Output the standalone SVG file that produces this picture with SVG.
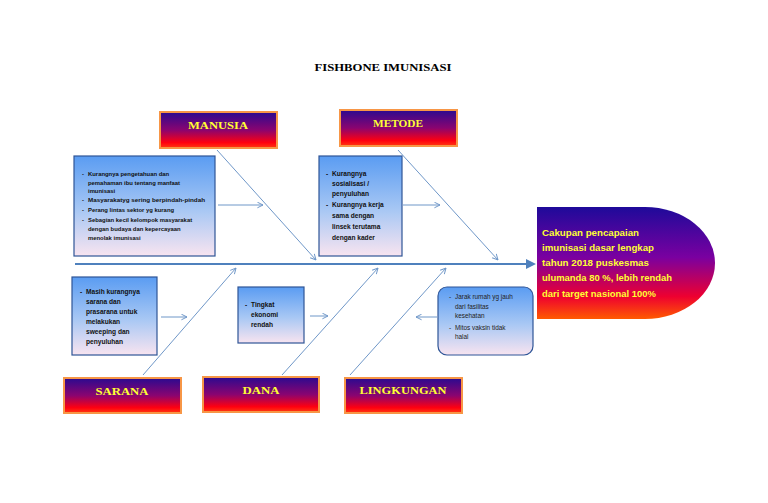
<svg xmlns="http://www.w3.org/2000/svg" width="768" height="503" viewBox="0 0 768 503">
<defs>
<linearGradient id="gLab" x1="0" y1="0" x2="0" y2="1">
<stop offset="0" stop-color="#2a0a90"/>
<stop offset="0.5" stop-color="#8a0470"/>
<stop offset="0.85" stop-color="#ff0010"/>
<stop offset="1" stop-color="#ff3a10"/>
</linearGradient>
<linearGradient id="gEff" x1="0" y1="0" x2="0" y2="1">
<stop offset="0" stop-color="#1e0a9a"/>
<stop offset="0.45" stop-color="#7a00a0"/>
<stop offset="0.8" stop-color="#ee0030"/>
<stop offset="1" stop-color="#ff5a00"/>
</linearGradient>
<linearGradient id="gBox" x1="0" y1="0" x2="0" y2="1">
<stop offset="0" stop-color="#5a9cf2"/>
<stop offset="0.55" stop-color="#a9c8f4"/>
<stop offset="1" stop-color="#f8e4f0"/>
</linearGradient>
<marker id="ah" viewBox="0 0 10 10" refX="9" refY="5" markerWidth="7" markerHeight="7" orient="auto" markerUnits="userSpaceOnUse">
<path d="M1,1 L9,5 L1,9" fill="none" stroke="#6f97c8" stroke-width="1.4"/>
</marker>
<marker id="ahS" viewBox="0 0 10 10" refX="8" refY="5" markerWidth="10" markerHeight="10" orient="auto" markerUnits="userSpaceOnUse">
<path d="M0,0 L10,5 L0,10 Z" fill="#4f81bd"/>
</marker>
</defs>
<style>
.lab{fill:url(#gLab);stroke:#f79646;stroke-width:2}
.labt{font-family:"Liberation Serif",serif;font-weight:bold;font-size:10.5px;fill:#ffff33;text-anchor:middle}
.tb{fill:url(#gBox);stroke:#2f5597;stroke-width:1.2}
.t1{font-family:"Liberation Sans",Arial,sans-serif;font-weight:bold;font-size:5.9px;fill:#111}
.t2{font-family:"Liberation Sans",Arial,sans-serif;font-weight:bold;font-size:6.6px;fill:#111}
.t3{font-family:"Liberation Sans",Arial,sans-serif;font-size:6.4px;fill:#222}
.eff{font-family:"Liberation Sans",Arial,sans-serif;font-weight:bold;font-size:9.6px;fill:#ffff33}
.bone{stroke:#6f97c8;stroke-width:1;fill:none}
</style>
<rect width="768" height="503" fill="#ffffff"/>
<text x="383" y="71" font-family="'Liberation Serif',serif" font-weight="bold" font-size="10" text-anchor="middle" textLength="137" lengthAdjust="spacingAndGlyphs" fill="#000">FISHBONE IMUNISASI</text>

<g id="connectors">
<line x1="75" y1="264" x2="534" y2="264" stroke="#4f81bd" stroke-width="2" marker-end="url(#ahS)"/>
<line class="bone" x1="217" y1="150" x2="316" y2="260" marker-end="url(#ah)"/>
<line class="bone" x1="398" y1="150" x2="498" y2="260" marker-end="url(#ah)"/>
<line class="bone" x1="143" y1="375" x2="236" y2="268" marker-end="url(#ah)"/>
<line class="bone" x1="282" y1="375" x2="378" y2="268" marker-end="url(#ah)"/>
<line class="bone" x1="350" y1="375" x2="446" y2="268" marker-end="url(#ah)"/>
<line class="bone" x1="218" y1="205" x2="263" y2="205" marker-end="url(#ah)"/>
<line class="bone" x1="403" y1="205" x2="440" y2="205" marker-end="url(#ah)"/>
<line class="bone" x1="161" y1="317" x2="187" y2="317" marker-end="url(#ah)"/>
<line class="bone" x1="310" y1="316" x2="328" y2="316" marker-end="url(#ah)"/>
<line class="bone" x1="437" y1="317" x2="416" y2="317" marker-end="url(#ah)"/>
</g>

<g id="manusia">
<rect class="lab" x="160" y="112" width="117" height="36"/>
<text class="labt" x="218" y="129" textLength="60" lengthAdjust="spacingAndGlyphs">MANUSIA</text>
</g>
<g id="metode">
<rect class="lab" x="340" y="110" width="117" height="36"/>
<text class="labt" x="398" y="127" textLength="50" lengthAdjust="spacingAndGlyphs">METODE</text>
</g>
<g id="sarana">
<rect class="lab" x="64" y="378" width="117" height="35"/>
<text class="labt" x="122" y="395" textLength="53" lengthAdjust="spacingAndGlyphs">SARANA</text>
</g>
<g id="dana">
<rect class="lab" x="203" y="377" width="116" height="35"/>
<text class="labt" x="261" y="394" textLength="37" lengthAdjust="spacingAndGlyphs">DANA</text>
</g>
<g id="lingkungan">
<rect class="lab" x="345" y="378" width="117" height="35"/>
<text class="labt" x="403" y="394" textLength="87" lengthAdjust="spacingAndGlyphs">LINGKUNGAN</text>
</g>

<g id="manusia-causes">
<rect class="tb" x="74" y="156" width="141" height="100"/>
<text class="t1" x="82" y="176">-</text><text class="t1" x="88" y="176">Kurangnya pengetahuan dan</text>
<text class="t1" x="88" y="185">pemahaman ibu tentang manfaat</text>
<text class="t1" x="88" y="193">imunisasi</text>
<text class="t1" x="82" y="202">-</text><text class="t1" x="88" y="202" textLength="117" lengthAdjust="spacingAndGlyphs">Masyarakatyg sering berpindah-pindah</text>
<text class="t1" x="82" y="212">-</text><text class="t1" x="88" y="212">Perang lintas sektor yg kurang</text>
<text class="t1" x="82" y="222">-</text><text class="t1" x="88" y="222">Sebagian kecil kelompok masyarakat</text>
<text class="t1" x="88" y="231">dengan budaya dan kepercayaan</text>
<text class="t1" x="88" y="240">menolak imunisasi</text>
</g>

<g id="metode-causes">
<rect class="tb" x="319" y="156" width="83" height="100"/>
<text class="t2" x="326" y="176">-</text><text class="t2" x="332" y="176">Kurangnya</text>
<text class="t2" x="332" y="186">sosialisasi /</text>
<text class="t2" x="332" y="196">penyuluhan</text>
<text class="t2" x="326" y="207">-</text><text class="t2" x="332" y="207">Kurangnya kerja</text>
<text class="t2" x="332" y="218">sama dengan</text>
<text class="t2" x="332" y="229">linsek terutama</text>
<text class="t2" x="332" y="240">dengan kader</text>
</g>

<g id="sarana-causes">
<rect class="tb" x="72" y="277" width="85" height="78"/>
<text class="t2" x="80" y="294">-</text><text class="t2" x="86" y="294">Masih kurangnya</text>
<text class="t2" x="86" y="304">sarana dan</text>
<text class="t2" x="86" y="314">prasarana untuk</text>
<text class="t2" x="86" y="324">melakukan</text>
<text class="t2" x="86" y="334">sweeping dan</text>
<text class="t2" x="86" y="344">penyuluhan</text>
</g>

<g id="dana-causes">
<rect class="tb" x="238" y="287" width="66" height="56"/>
<text class="t2" x="245" y="307">-</text><text class="t2" x="251" y="307">Tingkat</text>
<text class="t2" x="251" y="317">ekonomi</text>
<text class="t2" x="251" y="327">rendah</text>
</g>

<g id="lingkungan-causes">
<rect class="tb" x="438" y="287" width="95" height="68" rx="9" ry="9"/>
<text class="t3" x="449" y="299">-</text><text class="t3" x="455" y="299">Jarak rumah yg jauh</text>
<text class="t3" x="455" y="309">dari fasilitas</text>
<text class="t3" x="455" y="318">kesehatan</text>
<text class="t3" x="449" y="330">-</text><text class="t3" x="455" y="330">Mitos vaksin tidak</text>
<text class="t3" x="455" y="339">halal</text>
</g>

<g id="effect">
<path d="M537,207 H645 A70,56 0 0 1 645,319 H537 Z" fill="url(#gEff)"/>
<text class="eff" x="542" y="236" textLength="97" lengthAdjust="spacingAndGlyphs">Cakupan pencapaian</text>
<text class="eff" x="542" y="251" textLength="112" lengthAdjust="spacingAndGlyphs">imunisasi dasar  lengkap</text>
<text class="eff" x="542" y="266" textLength="107" lengthAdjust="spacingAndGlyphs">tahun 2018 puskesmas</text>
<text class="eff" x="542" y="281" textLength="130" lengthAdjust="spacingAndGlyphs">ulumanda 80 %, lebih rendah</text>
<text class="eff" x="542" y="297" textLength="114" lengthAdjust="spacingAndGlyphs">dari target nasional 100%</text>
</g>
</svg>
